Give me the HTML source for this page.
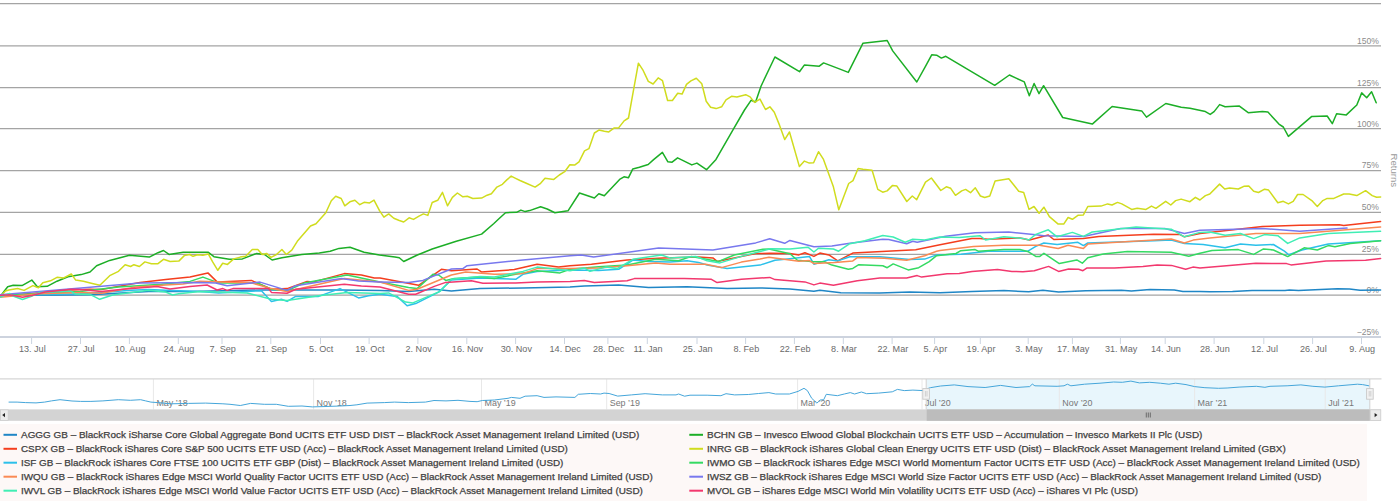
<!DOCTYPE html><html><head><meta charset="utf-8"><style>
html,body{margin:0;padding:0;background:#fff;width:1400px;height:501px;overflow:hidden}
svg{display:block;font-family:"Liberation Sans",sans-serif}
</style></head><body>
<svg width="1400" height="501" viewBox="0 0 1400 501">
<rect x="0" y="424" width="1367" height="77" fill="#fdf8f7"/>
<line x1="0" y1="3.5" x2="1381" y2="3.5" stroke="#a4a4a4" stroke-width="1.25"/>
<line x1="0" y1="45.9" x2="1381" y2="45.9" stroke="#a4a4a4" stroke-width="1.25"/>
<line x1="0" y1="87.7" x2="1381" y2="87.7" stroke="#a4a4a4" stroke-width="1.25"/>
<line x1="0" y1="128.7" x2="1381" y2="128.7" stroke="#a4a4a4" stroke-width="1.25"/>
<line x1="0" y1="170.5" x2="1381" y2="170.5" stroke="#a4a4a4" stroke-width="1.25"/>
<line x1="0" y1="212.4" x2="1381" y2="212.4" stroke="#a4a4a4" stroke-width="1.25"/>
<line x1="0" y1="254.4" x2="1381" y2="254.4" stroke="#a4a4a4" stroke-width="1.25"/>
<line x1="0" y1="295.2" x2="1381" y2="295.2" stroke="#a4a4a4" stroke-width="1.25"/>
<line x1="0" y1="337.1" x2="1381" y2="337.1" stroke="#bcc5d3" stroke-width="1.5"/>
<text x="1379" y="43.7" text-anchor="end" font-size="8.6" fill="#8c8c8c">150%</text>
<text x="1379" y="85.5" text-anchor="end" font-size="8.6" fill="#8c8c8c">125%</text>
<text x="1379" y="126.5" text-anchor="end" font-size="8.6" fill="#8c8c8c">100%</text>
<text x="1379" y="168.3" text-anchor="end" font-size="8.6" fill="#8c8c8c">75%</text>
<text x="1379" y="210.2" text-anchor="end" font-size="8.6" fill="#8c8c8c">50%</text>
<text x="1379" y="252.2" text-anchor="end" font-size="8.6" fill="#8c8c8c">25%</text>
<text x="1379" y="293.0" text-anchor="end" font-size="8.6" fill="#8c8c8c">0%</text>
<text x="1379" y="334.9" text-anchor="end" font-size="8.6" fill="#8c8c8c">−25%</text>
<text transform="translate(1390.5,170.3) rotate(90)" text-anchor="middle" font-size="9.6" fill="#9a9a9a">Returns</text>
<line x1="31.6" y1="337.5" x2="31.6" y2="344" stroke="#cbd4e0" stroke-width="1"/>
<text transform="translate(32.3,351.8) scale(1.07,1)" text-anchor="middle" font-size="8.5" fill="#6a6a6a">13. Jul</text>
<line x1="80.5" y1="337.5" x2="80.5" y2="344" stroke="#cbd4e0" stroke-width="1"/>
<text transform="translate(81.2,351.8) scale(1.07,1)" text-anchor="middle" font-size="8.5" fill="#6a6a6a">27. Jul</text>
<line x1="129.4" y1="337.5" x2="129.4" y2="344" stroke="#cbd4e0" stroke-width="1"/>
<text transform="translate(130.1,351.8) scale(1.07,1)" text-anchor="middle" font-size="8.5" fill="#6a6a6a">10. Aug</text>
<line x1="178.3" y1="337.5" x2="178.3" y2="344" stroke="#cbd4e0" stroke-width="1"/>
<text transform="translate(179.0,351.8) scale(1.07,1)" text-anchor="middle" font-size="8.5" fill="#6a6a6a">24. Aug</text>
<line x1="222" y1="337.5" x2="222" y2="344" stroke="#cbd4e0" stroke-width="1"/>
<text transform="translate(222.7,351.8) scale(1.07,1)" text-anchor="middle" font-size="8.5" fill="#6a6a6a">7. Sep</text>
<line x1="270.8" y1="337.5" x2="270.8" y2="344" stroke="#cbd4e0" stroke-width="1"/>
<text transform="translate(271.5,351.8) scale(1.07,1)" text-anchor="middle" font-size="8.5" fill="#6a6a6a">21. Sep</text>
<line x1="320.5" y1="337.5" x2="320.5" y2="344" stroke="#cbd4e0" stroke-width="1"/>
<text transform="translate(321.2,351.8) scale(1.07,1)" text-anchor="middle" font-size="8.5" fill="#6a6a6a">5. Oct</text>
<line x1="369.1" y1="337.5" x2="369.1" y2="344" stroke="#cbd4e0" stroke-width="1"/>
<text transform="translate(369.8,351.8) scale(1.07,1)" text-anchor="middle" font-size="8.5" fill="#6a6a6a">19. Oct</text>
<line x1="417.9" y1="337.5" x2="417.9" y2="344" stroke="#cbd4e0" stroke-width="1"/>
<text transform="translate(418.6,351.8) scale(1.07,1)" text-anchor="middle" font-size="8.5" fill="#6a6a6a">2. Nov</text>
<line x1="466.8" y1="337.5" x2="466.8" y2="344" stroke="#cbd4e0" stroke-width="1"/>
<text transform="translate(467.5,351.8) scale(1.07,1)" text-anchor="middle" font-size="8.5" fill="#6a6a6a">16. Nov</text>
<line x1="515.6" y1="337.5" x2="515.6" y2="344" stroke="#cbd4e0" stroke-width="1"/>
<text transform="translate(516.3,351.8) scale(1.07,1)" text-anchor="middle" font-size="8.5" fill="#6a6a6a">30. Nov</text>
<line x1="564.5" y1="337.5" x2="564.5" y2="344" stroke="#cbd4e0" stroke-width="1"/>
<text transform="translate(565.2,351.8) scale(1.07,1)" text-anchor="middle" font-size="8.5" fill="#6a6a6a">14. Dec</text>
<line x1="607.9" y1="337.5" x2="607.9" y2="344" stroke="#cbd4e0" stroke-width="1"/>
<text transform="translate(608.6,351.8) scale(1.07,1)" text-anchor="middle" font-size="8.5" fill="#6a6a6a">28. Dec</text>
<line x1="647.3" y1="337.5" x2="647.3" y2="344" stroke="#cbd4e0" stroke-width="1"/>
<text transform="translate(648.0,351.8) scale(1.07,1)" text-anchor="middle" font-size="8.5" fill="#6a6a6a">11. Jan</text>
<line x1="697" y1="337.5" x2="697" y2="344" stroke="#cbd4e0" stroke-width="1"/>
<text transform="translate(697.7,351.8) scale(1.07,1)" text-anchor="middle" font-size="8.5" fill="#6a6a6a">25. Jan</text>
<line x1="745.6" y1="337.5" x2="745.6" y2="344" stroke="#cbd4e0" stroke-width="1"/>
<text transform="translate(746.3,351.8) scale(1.07,1)" text-anchor="middle" font-size="8.5" fill="#6a6a6a">8. Feb</text>
<line x1="794.4" y1="337.5" x2="794.4" y2="344" stroke="#cbd4e0" stroke-width="1"/>
<text transform="translate(795.1,351.8) scale(1.07,1)" text-anchor="middle" font-size="8.5" fill="#6a6a6a">22. Feb</text>
<line x1="843.3" y1="337.5" x2="843.3" y2="344" stroke="#cbd4e0" stroke-width="1"/>
<text transform="translate(844.0,351.8) scale(1.07,1)" text-anchor="middle" font-size="8.5" fill="#6a6a6a">8. Mar</text>
<line x1="892.1" y1="337.5" x2="892.1" y2="344" stroke="#cbd4e0" stroke-width="1"/>
<text transform="translate(892.8,351.8) scale(1.07,1)" text-anchor="middle" font-size="8.5" fill="#6a6a6a">22. Mar</text>
<line x1="934.6" y1="337.5" x2="934.6" y2="344" stroke="#cbd4e0" stroke-width="1"/>
<text transform="translate(935.3,351.8) scale(1.07,1)" text-anchor="middle" font-size="8.5" fill="#6a6a6a">5. Apr</text>
<line x1="980.3" y1="337.5" x2="980.3" y2="344" stroke="#cbd4e0" stroke-width="1"/>
<text transform="translate(981.0,351.8) scale(1.07,1)" text-anchor="middle" font-size="8.5" fill="#6a6a6a">19. Apr</text>
<line x1="1028.2" y1="337.5" x2="1028.2" y2="344" stroke="#cbd4e0" stroke-width="1"/>
<text transform="translate(1028.9,351.8) scale(1.07,1)" text-anchor="middle" font-size="8.5" fill="#6a6a6a">3. May</text>
<line x1="1072.4" y1="337.5" x2="1072.4" y2="344" stroke="#cbd4e0" stroke-width="1"/>
<text transform="translate(1073.1,351.8) scale(1.07,1)" text-anchor="middle" font-size="8.5" fill="#6a6a6a">17. May</text>
<line x1="1120.4" y1="337.5" x2="1120.4" y2="344" stroke="#cbd4e0" stroke-width="1"/>
<text transform="translate(1121.1,351.8) scale(1.07,1)" text-anchor="middle" font-size="8.5" fill="#6a6a6a">31. May</text>
<line x1="1165.2" y1="337.5" x2="1165.2" y2="344" stroke="#cbd4e0" stroke-width="1"/>
<text transform="translate(1165.9,351.8) scale(1.07,1)" text-anchor="middle" font-size="8.5" fill="#6a6a6a">14. Jun</text>
<line x1="1214.1" y1="337.5" x2="1214.1" y2="344" stroke="#cbd4e0" stroke-width="1"/>
<text transform="translate(1214.8,351.8) scale(1.07,1)" text-anchor="middle" font-size="8.5" fill="#6a6a6a">28. Jun</text>
<line x1="1263.8" y1="337.5" x2="1263.8" y2="344" stroke="#cbd4e0" stroke-width="1"/>
<text transform="translate(1264.5,351.8) scale(1.07,1)" text-anchor="middle" font-size="8.5" fill="#6a6a6a">12. Jul</text>
<line x1="1312.6" y1="337.5" x2="1312.6" y2="344" stroke="#cbd4e0" stroke-width="1"/>
<text transform="translate(1313.3,351.8) scale(1.07,1)" text-anchor="middle" font-size="8.5" fill="#6a6a6a">26. Jul</text>
<line x1="1361.5" y1="337.5" x2="1361.5" y2="344" stroke="#cbd4e0" stroke-width="1"/>
<text transform="translate(1362.2,351.8) scale(1.07,1)" text-anchor="middle" font-size="8.5" fill="#6a6a6a">9. Aug</text>
<g fill="none" stroke-width="1.5" stroke-linejoin="round" stroke-linecap="round">
<polyline points="0,295.4 90,294.7 148.6,291.6 190,291.4 261.4,290 340,290 380,290.4 408.6,291.4 434.3,289.3 451.4,291 480,288.6 522.9,287.9 570,287.1 584.3,286.1 618.6,285 648.6,287.6 687.1,286.7 727.1,288.6 760,287.9 789.9,289.1 813.9,291.2 819.9,290.3 840.8,292.7 879.8,293.1 909.7,292.1 940,292.7 972,291.6 1003.9,290.6 1028.6,291.7 1042.9,290.3 1058.6,292.1 1085.7,290.7 1121.4,290.3 1131.4,291.1 1150,289.6 1174.3,290 1182.9,291.4 1200,291.5 1210,291.7 1232.5,291.5 1252,290.5 1285,290.5 1289.5,289.9 1298.5,290.6 1315,289.75 1337.5,288.7 1349.5,289 1360,290.2 1380.6,290" stroke="#1f86c6"/>
<polyline points="0,296.6 4.4,291 7.7,286.7 13.2,285.2 22,285.6 31.8,280.1 37.3,286.7 47.2,286.3 57,281.2 68,276.8 81.2,274.6 90,272 96.6,265.8 109.7,260.4 129.5,255.3 149.3,257.1 158,252.7 163.5,250.5 169,254.4 183.2,252.3 208.4,252.3 213.9,256.7 229.3,259.3 242.4,258.9 256.7,253.4 264.4,254.5 272.1,260 281.9,257.8 301.7,254.5 319.3,253 330.2,251.2 339,248.4 350,247.3 364.1,252.3 379.5,254.9 394.9,257.1 399.3,257.8 403.7,261.5 416.8,255.2 432.2,249 456.3,241.3 481.6,234.1 493.6,223.8 500,217.8 505.5,212.7 516.5,212.3 520.9,210.1 525.2,211.6 529.6,210.6 540.6,206.8 547.2,209 554.9,212.7 568,210.8 579.5,193 594.4,198 598.8,193.7 604.3,195.8 619.6,179.4 624,176.8 628.4,177.8 632.8,168.9 639.4,167.3 648.2,164.5 653.6,159.6 662.4,152.4 667.9,161.8 672.1,162.2 677.6,157.8 691.8,164.9 696.9,163.1 706.5,169.7 716,159.4 732.4,130.9 744.5,110 751.2,100.2 755.6,102 761.1,86 774.9,57 799.5,71.7 804.3,65.1 819.3,66.2 823.6,62.9 840,69.1 848.3,72.4 863,43.2 887.2,40.5 892.7,50.9 916.8,82 925.6,66.2 931.7,54.8 936.6,55.2 941.4,58.1 945.8,56.3 994.7,85.3 1009.4,75 1024.3,81.9 1029.3,95.8 1034.1,83.5 1039,93.6 1043.6,85.7 1062.7,117.5 1092.3,124.1 1112.1,106.5 1141.7,110.9 1146.5,117.1 1165.8,103.5 1181.2,107.2 1190,108.3 1205.4,111.6 1210.2,114.4 1214.1,111.6 1219.6,104.6 1225.1,106.8 1239.4,106.1 1248.2,112.7 1262.4,111.6 1267.9,112 1278.9,124.1 1283.3,127 1288.4,136.4 1311.8,116.4 1327.2,116 1332.3,123.7 1336.6,113.8 1346.3,114.9 1356.8,105 1361.7,92.9 1366.7,97.8 1371.6,91.8 1376.2,102.8" stroke="#1cae26"/>
<polyline points="0,295.7 32.1,293.4 64.3,290.2 90,289.2 101.4,289.4 140,282.6 165.7,279.6 190,277.1 207.9,272.9 217.1,281.9 251.4,280.4 271.4,289.3 287.1,288.6 307.1,281.4 312.9,282.1 344.3,273.6 361.4,275 374.3,278.1 380,278.1 418.6,285.3 441.4,269.3 451.4,270.7 477.1,269 481.4,271.9 514.3,269.6 537.1,264.3 558.6,267.1 570,265.7 591.4,264.3 627.1,260 662.9,257.9 698.6,257.1 712.9,257.9 717.1,261.4 755.7,253.6 770,253.3 789.9,253.4 798.9,254.9 804.9,252.7 813.9,256.4 819.9,253.1 828.9,254.9 837.8,260.9 852.8,253.1 915.7,249.7 940,244.8 971.9,238.4 979.9,238.4 987.9,239.2 1019.9,237.9 1029.5,240 1048.3,235.1 1053.8,239.5 1083.4,238.6 1098.8,236.4 1153.7,234.2 1180,234.6 1184.4,236.8 1200,233.5 1262.4,226.5 1299.8,225.2 1339.3,224.8 1343.7,225.4 1380.6,221.5" stroke="#f43e1e"/>
<polyline points="0,296.6 5.5,291 8.8,290 17.6,288.5 24.1,290.4 32.9,285.6 38.4,287.8 42.8,282.7 50.5,280.8 57,277.3 63.7,277.9 71.3,274 75.7,280.1 83.4,281.2 92.2,283.4 99.9,285.2 109.7,275.7 118.5,271.3 125.1,264.7 130.6,266.5 133.9,264.7 139.4,266.5 144.9,261.9 151.4,263.7 158,263.7 163.5,259.3 170.1,261.5 178.8,261.1 184.3,255.6 189.8,254.5 193,256.3 197.4,254.7 202.9,255.2 208.4,254.1 212.8,262.2 217.8,270.3 222.7,263.3 227.5,264.4 233.7,258.9 240.2,257.1 245.7,256.3 252.3,249.5 257.8,249.5 262.2,254.5 266.6,253.4 271,257.4 276.5,254.5 281.9,249.5 286.3,254.5 291.8,250.1 297.3,241.3 310.5,226 316,223.8 325.8,212.8 331.3,200.7 335.7,196.3 341.2,198.5 344.8,205.8 349.9,201.8 354.9,200.3 359.8,204.7 364.1,202.3 369.6,202.9 374,200.1 379.5,210.6 383.9,217.2 388.7,213.9 393.8,218.3 399.3,220.5 403.7,222 409.1,217.8 413.5,219.4 419,216.1 423.4,213.9 427.8,215.4 432.2,202.5 437.7,200.3 442.5,192.4 447.5,205.8 452.4,197.4 457.4,193 462.9,196.8 467.3,196.3 472.8,198.5 481.6,198.1 487.1,195.2 491.4,193.7 496.9,187.1 502.4,184.3 506.8,179.9 511.2,176.1 515.6,178.3 520,180.5 526.3,183.3 535.1,187.1 540.6,183.3 545,178.3 553.8,179.4 559.3,175 564.7,171.7 569.8,164.7 574.6,165.1 579,161.8 584.5,150.9 588.9,148.7 594.4,133 598.9,130.1 604.4,131.2 608.8,131.9 614.3,127.9 618.6,127.9 624.1,120.9 628.5,118 634,87.3 638.4,63.2 642.8,69.8 648.3,81.4 653.1,84 658.2,77.9 662.5,80.7 667.6,100.5 672.4,100.5 677.7,93.2 682.1,94.1 686.5,84.4 690.9,80.9 696.3,78.3 701.8,83.8 706.2,101.3 710.6,107.3 716.1,108.6 721.6,106.8 726,99.8 731.5,96.3 736.9,96.9 745.7,94.7 750.1,96.9 754.5,102.4 760,99.1 765.5,109.5 769.9,106.8 774.3,112.3 779.6,125.4 784.7,139.6 789.5,132 799.4,166.6 804.4,161.1 809.3,163.1 813.6,162.7 818.5,151.7 823.5,159.4 833.4,186.8 838.8,209.8 848.7,183.5 853,180.6 858.1,168.5 862.9,169.2 872.1,170.3 877.8,189.4 882.7,192.2 887.1,190.9 892.6,185.4 896.9,186.1 906.8,201.5 912.3,196 916.7,199.7 925.5,182.1 931.4,178 940.8,190.5 946.3,186.8 950.7,188.3 955.5,195.3 961.7,190.9 965.6,189.4 970.5,192.7 975.3,187.8 980.4,196 984.7,197.5 989.8,196 995.1,181 1008.8,178.7 1018.7,191.2 1023.7,192.5 1029,209.4 1034,206.5 1039.1,213.3 1043.9,207.2 1049.4,216.6 1058.2,224.1 1063.7,224.1 1068.1,217.5 1072.4,219.3 1077.9,215.3 1083.4,214.9 1087.8,206.5 1101,206.1 1107.6,203.9 1112,205 1117.5,202.4 1121.8,203.9 1131.7,209.4 1137.2,208.3 1146,209.4 1151.5,206.1 1155.9,208.3 1165.7,201.3 1170.8,205 1175.6,200.6 1181.1,199.1 1189.9,201.7 1195.4,197.3 1199.9,200 1205.4,195.6 1209.8,194 1219.6,184.1 1224.7,189 1229.5,187.9 1238.3,189 1243.8,186.3 1248.8,185.9 1253.7,191.2 1258.5,192.5 1264.6,189.2 1268.6,190.1 1277.8,202.8 1283.3,201.3 1288.4,203.9 1293.2,201.3 1297.6,194.5 1303.1,194.5 1311.8,200.6 1317.3,206.5 1322.8,200.6 1327.2,198.4 1333.8,198.4 1343.7,194 1349.2,194 1356.8,195.6 1365.6,190.7 1372.2,195.6 1376.6,197.3 1380.6,196.9" stroke="#d0dc1e"/>
<polyline points="0,295.4 80,293.7 114.3,291.6 131.4,290.3 148.6,289.4 165.7,290.3 200,291.6 218.6,292.9 261.4,290.7 271.4,301.4 281.4,299.3 287.1,301.4 295.7,296.4 318.6,296.4 340,288.6 358.6,297.9 368.6,295.7 380,294.3 397.1,296.4 407.1,305.7 415.7,303.6 438.6,292.1 451.4,280 480,277.9 515.7,279.3 522.9,274.3 537.1,271.4 570,270 598.6,270.4 618.6,269.3 632.9,260 648.6,261.4 670,262.1 687.1,260.7 698.6,262.4 707.1,265 727.1,268.6 760,265.1 775,260.2 789.9,258.7 809.4,256.4 813.9,264.2 828.9,259.7 837.8,260.9 849.8,256.7 879.8,256.7 909.7,259.4 924.7,259.1 936.6,254.9 960.8,254.3 987.9,251.2 1027.9,251.2 1035.8,246.4 1043.9,243 1057.1,244.5 1077.9,242.3 1083.4,245.6 1087.8,243 1153.7,240.8 1171.2,240.1 1184.4,243.4 1203.2,244.5 1225.1,247.8 1240.5,243.9 1255.9,245.2 1273.4,244.5 1284.4,251.1 1288.8,254.8 1302,250 1328.3,243.9 1380.6,240.8" stroke="#2cc0ea"/>
<polyline points="0,295.4 19.3,294.4 80,291.6 118.6,286.9 161.4,284.3 190,281.4 202.9,277.1 218.6,282.9 257.1,282.9 271.4,289.3 287.1,290.7 304.3,282.9 347.1,275 380,282.1 408.6,287.6 417.1,288.6 432.9,274.3 438.6,275 445.7,280.4 454.3,278.6 480,277.1 494.3,278.6 515.7,274.3 537.1,270.7 560,272.9 570,269.3 598.6,266.7 627.1,265 655.7,259.3 678.6,260.7 691.4,256.4 718.6,261.4 734.3,255 762.9,249.3 769,249 789.9,253.7 797.4,260.2 813.9,261.7 824.4,261.7 831.9,265.1 848.3,269.2 852.8,268.4 858.8,264.7 882.8,265.7 887.2,267.7 893.2,263.9 908.2,269.9 918.7,267.7 929.2,261.7 936.6,255.7 956,253.5 960.8,250.7 975.1,249.6 978.3,251.2 1003.9,249.6 1019.9,249.6 1028.5,251.8 1035.8,256.4 1039.5,256.6 1043.9,253.3 1059.3,263.6 1076.8,259.9 1082.3,263.2 1087.8,257.7 1103.2,254 1127.3,251.5 1171.2,252.2 1188.8,256.2 1200,253.3 1212,250.5 1238.3,249.6 1253.7,254.4 1263.5,248.9 1273.4,250 1287.7,256.6 1304.2,247.8 1317.3,250 1328.3,245.6 1334.9,246.7 1350.3,243.4 1380.6,240.8" stroke="#34da62"/>
<polyline points="0,297.3 38.6,293.7 64.3,293.1 80,292.4 101.4,293.3 135.7,286.9 165.7,285.1 182.9,283.9 200,281.3 251.4,282.9 271.4,288.6 287.1,291.4 344.3,278.6 380,282 408.6,290.4 417.1,289.3 451.4,275 465.7,272.1 494.3,274.3 522.9,273.6 537.1,268.6 570,268.6 598.6,268.1 627.1,265.7 655.7,262.9 670,264.3 705.7,264.3 721.4,267.6 741.4,262.1 760,259 769,257.2 798.9,261.2 809.4,260.6 813.9,263.6 834.9,262.4 852.8,260.9 857.3,257.6 884.3,258.2 906.7,260.2 924.7,255.7 936.6,251.2 940,250.4 973.5,246.4 1003.9,245.2 1039.5,245.2 1058.2,248.5 1068.1,245.2 1083.4,248.5 1087.8,244.1 1171.2,239 1184.4,243 1193.2,240.1 1209.8,237.9 1255.9,233.5 1299.8,233.5 1380.6,227" stroke="#fa8a54"/>
<polyline points="0,294.8 90,287.3 140,283 200,282.6 215.7,282.9 227.1,285.7 260,282.1 287.1,290.4 295.7,285.7 341.4,278.6 358.6,281.1 380,281.9 408.6,282.4 422.9,280.4 451.4,269 462.9,268.6 467.1,265.7 522.9,260 570,255.7 581.4,255 593.6,257.1 658.6,247.9 712.9,250 755.7,242.9 769.7,238.8 784.7,243.3 789.9,240.4 813.9,246.7 831.9,246 849.8,243.3 882.8,239.2 888.7,239.5 906.7,243.7 912.7,241.2 917.2,242.2 945.6,236.2 975.1,232.8 1008.7,232 1035.8,234.7 1043.9,235.7 1083.4,236.4 1120.7,228.5 1164.7,228.5 1184.4,233.5 1199.9,230.3 1262.4,228.5 1299.8,231.3 1347,228.1" stroke="#7878ee"/>
<polyline points="0,297.3 9.6,293.4 12.9,296 22.5,299.5 30.8,296.6 39.8,292.5 51.4,292.1 61.1,291.5 70.7,290.9 75.2,294.1 90,294.4 99.7,299.3 112.6,295 131.4,292.4 148.6,290.3 165.7,292 172.6,295 178.6,293.7 200,291.6 247.1,292.9 271.4,299.3 287.1,300.4 318.6,295.7 347.1,292.4 380,293.6 388.6,292.9 405.7,302.1 412.9,302.9 440,291.4 451.4,279.3 480,276.4 494.3,277.1 522.9,271.4 537.1,267.1 570,270.7 584.3,267.9 590,271.4 605.7,267.1 617.1,268.6 632.9,259.3 661.4,255 670,257.9 695.7,256.4 707.1,260.7 720,262.9 741.4,256.4 762.9,250.7 770.5,248.7 789.9,249 807.9,247.2 813.9,252 818.4,248.2 833.4,249 838.6,251.2 849.8,243.7 864.8,240.7 882.8,235.5 893.2,237 905.2,242.2 912.7,239.2 924.7,240 939.6,237 959.2,237.6 979.9,235.7 985.5,240 1003.9,236.8 1023.1,238.4 1028.7,240 1035.8,234.4 1048.3,229.8 1057.1,236.8 1072.4,232.4 1083.4,236.4 1092.2,232 1136.1,227 1171.2,229.2 1184.4,236.8 1200,232.4 1209.8,232 1225.1,235.3 1240.5,233.5 1253.7,238.6 1264.6,234.6 1277.8,235.7 1287.7,243.4 1299.8,237.9 1328.3,233.5 1380.6,231.3" stroke="#40eeb4"/>
<polyline points="0,295.4 9.6,294.8 22.5,297.3 32.1,295.4 45,292.1 64.3,289.9 70.7,289.2 80,289.4 101.4,291.6 122.9,289.3 157.1,286.4 170,289 190,286.4 207.1,285 217.1,290 222.9,288.6 227.1,290.4 232.9,288.6 268.6,288.6 271.4,292.4 287.1,293.3 295.7,289.3 344.3,284.3 361.4,286.1 380,287.1 408.6,294.3 415.7,294.3 434.3,286.4 445.7,282.4 471.4,280.7 482.9,283.3 515.7,282.9 537.1,281.9 570,281.4 584.3,280.4 594.3,282.4 627.1,280.7 634.3,278.6 684.3,278.6 711.4,279.3 717.1,282.6 741.4,279.3 760,278.1 769.7,277.4 775,279.6 804.9,281.9 813.9,284.9 819.9,283.1 833.4,285.2 857.3,280.7 879.8,278.1 906.7,278.1 917.2,275.6 921.7,277.1 947.1,273.7 959.2,273.5 972,271.4 997.5,269.5 1011.9,271.4 1022.9,271.7 1034.3,270.7 1048.6,266.4 1058.6,271.4 1068.6,268.9 1078.6,269.3 1082.9,270.7 1087.1,267.9 1114.3,267.9 1142.9,266.4 1157.1,265 1171.4,265.4 1185.7,269.3 1192.9,267.1 1200,267.9 1255.9,263.2 1286.6,263.6 1291,264.9 1326.1,261 1365.6,260.3 1380.6,258.4" stroke="#f2386e"/>
</g>
<rect x="926.7" y="379" width="443" height="30.5" fill="#e8f6fc"/>
<line x1="153.4" y1="379" x2="153.4" y2="409.5" stroke="#e8e8e8" stroke-width="1"/>
<line x1="313.6" y1="379" x2="313.6" y2="409.5" stroke="#e8e8e8" stroke-width="1"/>
<line x1="481.5" y1="379" x2="481.5" y2="409.5" stroke="#e8e8e8" stroke-width="1"/>
<line x1="606.7" y1="379" x2="606.7" y2="409.5" stroke="#e8e8e8" stroke-width="1"/>
<line x1="797.6" y1="379" x2="797.6" y2="409.5" stroke="#e8e8e8" stroke-width="1"/>
<line x1="922.0" y1="379" x2="922.0" y2="409.5" stroke="#e8e8e8" stroke-width="1"/>
<line x1="1059.3" y1="379" x2="1059.3" y2="409.5" stroke="#e8e8e8" stroke-width="1"/>
<line x1="1194.6" y1="379" x2="1194.6" y2="409.5" stroke="#e8e8e8" stroke-width="1"/>
<line x1="1325.2" y1="379" x2="1325.2" y2="409.5" stroke="#e8e8e8" stroke-width="1"/>
<text transform="translate(156.4,405.6) scale(1.05,1)" font-size="8.5" fill="#777">May &#8217;18</text>
<text transform="translate(316.6,405.6) scale(1.05,1)" font-size="8.5" fill="#777">Nov &#8217;18</text>
<text transform="translate(484.5,405.6) scale(1.05,1)" font-size="8.5" fill="#777">May &#8217;19</text>
<text transform="translate(609.7,405.6) scale(1.05,1)" font-size="8.5" fill="#777">Sep &#8217;19</text>
<text transform="translate(800.6,405.6) scale(1.05,1)" font-size="8.5" fill="#777">Mar &#8217;20</text>
<text transform="translate(925.0,405.6) scale(1.05,1)" font-size="8.5" fill="#777">Jul &#8217;20</text>
<text transform="translate(1062.3,405.6) scale(1.05,1)" font-size="8.5" fill="#777">Nov &#8217;20</text>
<text transform="translate(1197.6,405.6) scale(1.05,1)" font-size="8.5" fill="#777">Mar &#8217;21</text>
<text transform="translate(1328.2,405.6) scale(1.05,1)" font-size="8.5" fill="#777">Jul &#8217;21</text>
<polyline points="8.6,402.1 17.1,402.1 25.7,402.6 36,402.9 44.6,402.1 51.4,400.9 60,399.7 72,401 80.6,401.4 90.9,401.4 102.9,400.9 118.3,399.7 130.3,400.3 140.6,399.7 145.7,400.9 150.9,402.1 157.7,402.6 171.4,403.8 188.6,403.4 205.7,403.1 222.9,403.8 230,404.3 240.3,405.5 250.6,403.4 264.3,404.3 276.3,404.3 288.3,406.3 302,406 312.3,406.9 326,406.5 339.7,406 350,405.5 356.9,404.8 367.1,403.1 384.3,402.6 394.6,402.1 408.3,402.6 425.4,402.1 434,400.5 446,400.9 458,400.3 470,401.4 477.1,401.7 482.3,400.5 494.3,400 508,398.3 511.4,397.4 520,398.3 525.1,396.2 537.1,395.7 544,397.4 556,396.9 574.9,397.4 578.3,394.3 590.3,393.5 600.6,394 604,393.1 609.1,393.5 617.7,396.1 631.4,394.9 645.1,393.7 662.3,394.9 676,394.9 678.6,394 684.6,396.2 690,395.2 707.1,395.2 720.9,395.7 726,393.7 734.6,394.9 748.3,394.5 758.6,393.5 768.9,392.6 775.7,394 789.4,394 798,391.4 804,388.3 807.4,390.6 811.7,398.3 816.9,403.1 820.3,400 823.7,399.7 826.3,394.3 837.4,395.7 844.3,394 850.3,392.6 854.6,394 861.4,392 866.6,393.7 878.6,393.1 892.3,391.8 897.4,389.4 904.3,390.6 912.9,390.1 923.2,390.6 926.9,388.9 930.3,387.7 940.6,386 954.3,384.9 968,386.6 985.1,387.5 1000.6,385.4 1016,387.5 1029.7,386.6 1032.3,384.1 1034.9,385.8 1057.1,386.3 1064,385.8 1067.4,384.2 1070.9,385.8 1084.6,384.2 1100,383.2 1113.7,382 1122.3,382.3 1130.9,381.1 1139.4,382.9 1149.7,382.3 1160.3,383.2 1168.9,384.2 1175.7,383.2 1186,384.6 1194.6,386.6 1204.9,387.7 1218.6,388.3 1227.1,388 1239.1,387.1 1256.3,386.3 1264.9,387.3 1270,386.3 1287.1,385.8 1300.9,384.9 1312.9,386.3 1324.9,387.1 1338.6,385.8 1357.4,384.2 1362.6,384.6 1369.4,385.9" fill="none" stroke="#45a6da" stroke-width="1.0"/>
<line x1="0" y1="378.8" x2="1381.5" y2="378.8" stroke="#d6d6d6" stroke-width="1.2"/>
<line x1="926.2" y1="379" x2="926.2" y2="409.5" stroke="#d0d0d0" stroke-width="1"/>
<line x1="1369.8" y1="379" x2="1369.8" y2="409.5" stroke="#d0d0d0" stroke-width="1"/>
<rect x="922.8" y="388.6" width="6.6" height="10.6" fill="#f2f2f2" stroke="#c8c8c8" stroke-width="0.9"/>
<line x1="925.4" y1="391" x2="925.4" y2="396.5" stroke="#c8c8c8" stroke-width="0.8"/>
<line x1="927.0" y1="391" x2="927.0" y2="396.5" stroke="#c8c8c8" stroke-width="0.8"/>
<rect x="1366.6" y="388.6" width="6.6" height="10.6" fill="#f2f2f2" stroke="#c8c8c8" stroke-width="0.9"/>
<line x1="1369.1999999999998" y1="391" x2="1369.1999999999998" y2="396.5" stroke="#c8c8c8" stroke-width="0.8"/>
<line x1="1370.8" y1="391" x2="1370.8" y2="396.5" stroke="#c8c8c8" stroke-width="0.8"/>
<rect x="0" y="409.4" width="1381" height="11.4" fill="#d3d3d3"/>
<rect x="926.7" y="409.4" width="443.1" height="11.4" fill="#bcbcbc"/>
<line x1="1146.3" y1="412.5" x2="1146.3" y2="417.5" stroke="#555" stroke-width="0.8"/>
<line x1="1148.3" y1="412.5" x2="1148.3" y2="417.5" stroke="#555" stroke-width="0.8"/>
<line x1="1150.3" y1="412.5" x2="1150.3" y2="417.5" stroke="#555" stroke-width="0.8"/>
<rect x="0.4" y="409.8" width="7.8" height="10.6" fill="#ececec" stroke="#cfcfcf" stroke-width="0.8"/>
<path d="M2.2,415.1 L5,412.9 L5,417.3 Z" fill="#222"/>
<rect x="1370.2" y="409.8" width="10.6" height="10.6" fill="#ececec" stroke="#cfcfcf" stroke-width="0.8"/>
<path d="M1377.4,415.1 L1374.6,412.9 L1374.6,417.3 Z" fill="#222"/>
<line x1="3.5" y1="434.8" x2="17" y2="434.8" stroke="#1f86c6" stroke-width="2"/>
<text x="21" y="437.9" font-size="9.4" fill="#404040" stroke="#404040" stroke-width="0.25" textLength="618.3" lengthAdjust="spacingAndGlyphs">AGGG GB – BlackRock iSharse Core Global Aggregate Bond UCITS ETF USD DIST – BlackRock Asset Management Ireland Limited (USD)</text>
<line x1="3.5" y1="448.8" x2="17" y2="448.8" stroke="#f43e1e" stroke-width="2"/>
<text x="21" y="451.9" font-size="9.4" fill="#404040" stroke="#404040" stroke-width="0.25" textLength="546.9" lengthAdjust="spacingAndGlyphs">CSPX GB – BlackRock iShares Core S&amp;P 500 UCITS ETF USD (Acc) – BlackRock Asset Management Ireland Limited (USD)</text>
<line x1="3.5" y1="462.7" x2="17" y2="462.7" stroke="#2cc0ea" stroke-width="2"/>
<text x="21" y="465.8" font-size="9.4" fill="#404040" stroke="#404040" stroke-width="0.25" textLength="542.4" lengthAdjust="spacingAndGlyphs">ISF GB – BlackRock iShares Core FTSE 100 UCITS ETF GBP (Dist) – BlackRock Asset Management Ireland Limited (USD)</text>
<line x1="3.5" y1="476.7" x2="17" y2="476.7" stroke="#fa8a54" stroke-width="2"/>
<text x="21" y="479.8" font-size="9.4" fill="#404040" stroke="#404040" stroke-width="0.25" textLength="631.7" lengthAdjust="spacingAndGlyphs">IWQU GB – BlackRock iShares Edge MSCI World Quality Factor UCITS ETF USD (Acc) – BlackRock Asset Management Ireland Limited (USD)</text>
<line x1="3.5" y1="490.7" x2="17" y2="490.7" stroke="#40eeb4" stroke-width="2"/>
<text x="21" y="493.8" font-size="9.4" fill="#404040" stroke="#404040" stroke-width="0.25" textLength="621.9" lengthAdjust="spacingAndGlyphs">IWVL GB – BlackRock iShares Edge MSCI World Value Factor UCITS ETF USD (Acc) – BlackRock Asset Management Ireland Limited (USD)</text>
<line x1="689.3" y1="434.8" x2="703" y2="434.8" stroke="#1cae26" stroke-width="2"/>
<text x="707" y="437.9" font-size="9.4" fill="#404040" stroke="#404040" stroke-width="0.25" textLength="495.4" lengthAdjust="spacingAndGlyphs">BCHN GB – Invesco Elwood Global Blockchain UCITS ETF USD – Accumulation – Invesco Markets II Plc (USD)</text>
<line x1="689.3" y1="448.8" x2="703" y2="448.8" stroke="#d0dc1e" stroke-width="2"/>
<text x="707" y="451.9" font-size="9.4" fill="#404040" stroke="#404040" stroke-width="0.25" textLength="578.7" lengthAdjust="spacingAndGlyphs">INRG GB – BlackRock iShares Global Clean Energy UCITS ETF USD (Dist) – BlackRock Asset Management Ireland Limited (GBX)</text>
<line x1="689.3" y1="462.7" x2="703" y2="462.7" stroke="#34da62" stroke-width="2"/>
<text x="707" y="465.8" font-size="9.4" fill="#404040" stroke="#404040" stroke-width="0.25" textLength="652.8" lengthAdjust="spacingAndGlyphs">IWMO GB – BlackRock iShares Edge MSCI World Momentum Factor UCITS ETF USD (Acc) – BlackRock Asset Management Ireland Limited (USD)</text>
<line x1="689.3" y1="476.7" x2="703" y2="476.7" stroke="#7878ee" stroke-width="2"/>
<text x="707" y="479.8" font-size="9.4" fill="#404040" stroke="#404040" stroke-width="0.25" textLength="614.4" lengthAdjust="spacingAndGlyphs">IWSZ GB – BlackRock iShares Edge MSCI World Size Factor UCITS ETF USD (Acc) – BlackRock Asset Management Ireland Limited (USD)</text>
<line x1="689.3" y1="490.7" x2="703" y2="490.7" stroke="#f2386e" stroke-width="2"/>
<text x="707" y="493.8" font-size="9.4" fill="#404040" stroke="#404040" stroke-width="0.25" textLength="430.9" lengthAdjust="spacingAndGlyphs">MVOL GB – iShares Edge MSCI World Min Volatility UCITS ETF USD (Acc) – iShares VI Plc (USD)</text>
</svg></body></html>
